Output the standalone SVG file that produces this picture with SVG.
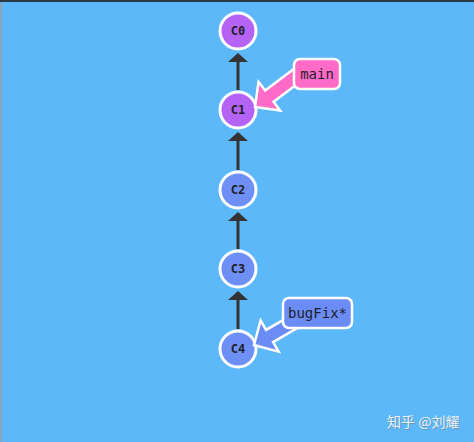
<svg xmlns="http://www.w3.org/2000/svg" width="474" height="442" viewBox="0 0 474 442">
  <style>
    .commit { stroke: #ffffff; stroke-width: 3; }
    .purple { fill: #b463f4; }
    .blue { fill: #6e8ff6; }
    .clabel { font-family: "DejaVu Sans Mono", "Liberation Mono", monospace; font-size: 12px; font-weight: bold; fill: #1e1e2a; text-anchor: middle; }
    .edge { stroke: #333333; stroke-width: 3; fill: none; }
    .btag { stroke: #ffffff; stroke-width: 2.5; stroke-linejoin: miter; }
    .tagtext { font-family: "DejaVu Sans Mono", "Liberation Mono", monospace; font-size: 14px; fill: #1e1e2a; text-anchor: middle; }
    .wm { font-family: "Noto Sans CJK SC", "Noto Sans", sans-serif; font-size: 14px; }
  </style>
  <defs>
    <marker id="ah" viewBox="0 0 9 20" refX="7" refY="10" markerWidth="9" markerHeight="20" markerUnits="userSpaceOnUse" orient="auto">
      <path d="M0,0 L9,10 L0,20 z" fill="#333333"/>
    </marker>
    <polygon id="tagArrow" points="0,0 18,-18 18,-7 58,-7 58,7 18,7 18,18"/>
  </defs>

  <rect x="0" y="0" width="474" height="442" fill="#5cb8f9"/>
  <rect x="0" y="0" width="474" height="2" fill="#2c3a47"/>
  <rect x="0" y="2" width="2" height="440" fill="#8aa5b8"/>

  <g id="connectors">
    <line class="edge" x1="238" y1="90" x2="238" y2="55" marker-end="url(#ah)"/>
    <line class="edge" x1="238" y1="170" x2="238" y2="134" marker-end="url(#ah)"/>
    <line class="edge" x1="238" y1="249" x2="238" y2="214" marker-end="url(#ah)"/>
    <line class="edge" x1="238" y1="329" x2="238" y2="293" marker-end="url(#ah)"/>
  </g>

  <g id="C0">
    <circle class="commit purple" cx="238" cy="31" r="18"/>
    <text class="clabel" x="238" y="35">C0</text>
  </g>
  <g id="C1">
    <circle class="commit purple" cx="238" cy="110" r="18"/>
    <text class="clabel" x="238" y="114">C1</text>
  </g>
  <g id="C2">
    <circle class="commit blue" cx="238" cy="190" r="18"/>
    <text class="clabel" x="238" y="194">C2</text>
  </g>
  <g id="C3">
    <circle class="commit blue" cx="238" cy="269" r="18"/>
    <text class="clabel" x="238" y="273">C3</text>
  </g>
  <g id="C4">
    <circle class="commit blue" cx="238" cy="349" r="18"/>
    <text class="clabel" x="238" y="353">C4</text>
  </g>

  <g id="main">
    <use href="#tagArrow" class="btag" fill="#ff6bc6" transform="translate(255,107) rotate(-37)"/>
    <rect x="294" y="59" width="46" height="30" rx="6" fill="#ff6bc6" stroke="#ffffff" stroke-width="2.5"/>
    <text class="tagtext" x="317" y="79">main</text>
  </g>

  <g id="bugFix">
    <use href="#tagArrow" class="btag" fill="#6b8cf5" transform="translate(254,345) rotate(-30)"/>
    <rect x="283" y="298" width="69" height="30" rx="6" fill="#6b8cf5" stroke="#ffffff" stroke-width="2.5"/>
    <text class="tagtext" x="317.5" y="318">bugFix*</text>
  </g>

  <g id="watermark">
    <text class="wm" x="388" y="428" fill="#6a7f93" opacity="0.6">知乎 @刘耀</text>
    <text class="wm" x="387" y="427" fill="#eef3f8">知乎 @刘耀</text>
  </g>
</svg>
